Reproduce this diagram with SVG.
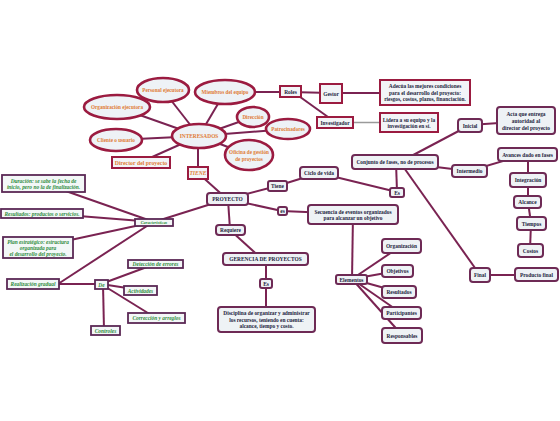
<svg xmlns="http://www.w3.org/2000/svg" width="560" height="421" viewBox="0 0 560 421">
<style>
.bg{fill:#ffffff}
.el{fill:#eef2f6;stroke:#9b1b40;stroke-width:2.6}
.rr{fill:#f2f4f7;stroke:#9b1b40;stroke-width:2}
.nd{fill:#eef2f5;stroke:#6e2a55;stroke-width:2}
.gb{fill:#f3f7f7;stroke:#5b2855;stroke-width:1.8}
.c{stroke:#7a2352;stroke-width:2;fill:none}
.cg{stroke:#9a9a9a;stroke-width:1.5;fill:none}
text{font-family:"Liberation Serif","DejaVu Serif",serif;font-weight:bold;text-anchor:middle;dominant-baseline:central}
.o{fill:#e07b35;font-size:5.2px}
.k{fill:#1d2440;font-size:5.4px}
.g{fill:#2e8b3c;font-size:5.4px;font-style:italic}
</style>
<rect class="bg" x="0" y="0" width="560" height="421"/>
<g id="connectors">
<line class="c" x1="163" y1="90" x2="199" y2="136"/>
<line class="c" x1="225" y1="92" x2="199" y2="136"/>
<line class="c" x1="117" y1="107" x2="199" y2="136"/>
<line class="c" x1="253" y1="117" x2="199" y2="136"/>
<line class="c" x1="288" y1="129" x2="199" y2="136"/>
<line class="c" x1="116" y1="140" x2="199" y2="136"/>
<line class="c" x1="249" y1="155" x2="199" y2="136"/>
<line class="c" x1="141" y1="162" x2="199" y2="136"/>
<line class="c" x1="198" y1="136" x2="198" y2="173"/>
<line class="c" x1="225" y1="92" x2="290" y2="92"/>
<line class="c" x1="290" y1="92" x2="331" y2="93"/>
<line class="c" x1="331" y1="93" x2="425" y2="93"/>
<line class="c" x1="296" y1="94" x2="335" y2="122"/>
<line class="cg" x1="335" y1="122.5" x2="409" y2="122.5"/>
<line class="c" x1="198" y1="173" x2="227" y2="199"/>
<line class="c" x1="227" y1="199" x2="277" y2="186"/>
<line class="c" x1="277" y1="186" x2="319" y2="173"/>
<line class="c" x1="319" y1="173" x2="397" y2="192"/>
<line class="c" x1="396" y1="162" x2="397" y2="192"/>
<line class="c" x1="400" y1="162" x2="470" y2="125"/>
<line class="c" x1="470" y1="125" x2="526" y2="121"/>
<line class="c" x1="395" y1="162" x2="469" y2="171"/>
<line class="c" x1="469" y1="171" x2="527" y2="154"/>
<line class="c" x1="528" y1="154" x2="528" y2="180"/>
<line class="c" x1="528" y1="180" x2="528" y2="202"/>
<line class="c" x1="528" y1="202" x2="531" y2="223"/>
<line class="c" x1="531" y1="223" x2="530" y2="250"/>
<line class="c" x1="402" y1="165" x2="480" y2="275"/>
<line class="c" x1="480" y1="275" x2="536" y2="275"/>
<line class="c" x1="227" y1="199" x2="282" y2="211"/>
<line class="c" x1="282" y1="211" x2="353" y2="214"/>
<line class="c" x1="228" y1="199" x2="230" y2="230"/>
<line class="c" x1="230" y1="230" x2="262" y2="259"/>
<line class="c" x1="266" y1="259" x2="266" y2="320"/>
<line class="c" x1="353" y1="214" x2="352" y2="280"/>
<line class="c" x1="352" y1="279" x2="401" y2="246"/>
<line class="c" x1="352" y1="279" x2="397" y2="271"/>
<line class="c" x1="352" y1="279" x2="399" y2="292"/>
<line class="c" x1="352" y1="279" x2="401" y2="313"/>
<line class="c" x1="352" y1="279" x2="402" y2="335"/>
<line class="c" x1="227" y1="199" x2="154" y2="222"/>
<line class="c" x1="43" y1="183" x2="154" y2="222"/>
<line class="c" x1="41" y1="213" x2="154" y2="222"/>
<line class="c" x1="38" y1="247" x2="154" y2="222"/>
<line class="c" x1="58" y1="284" x2="150" y2="224"/>
<line class="c" x1="33" y1="284" x2="101" y2="284"/>
<line class="c" x1="101" y1="284" x2="155" y2="264"/>
<line class="c" x1="101" y1="284" x2="140" y2="290"/>
<line class="c" x1="101" y1="284" x2="156" y2="318"/>
<line class="c" x1="103" y1="284" x2="104" y2="330"/>
</g>
<g id="n-personal"><ellipse class="el" cx="163" cy="90" rx="26" ry="12"/><text class="o" x="163" y="90">Personal ejecutora</text></g>
<g id="n-miembros"><ellipse class="el" cx="225" cy="92" rx="30" ry="12"/><text class="o" x="225" y="92">Miembros del equipo</text></g>
<g id="n-orgejec"><ellipse class="el" cx="117" cy="107" rx="33" ry="12"/><text class="o" x="117" y="107">Organización ejecutora</text></g>
<g id="n-direccion"><ellipse class="el" cx="253" cy="117" rx="16" ry="10"/><text class="o" x="253" y="117">Dirección</text></g>
<g id="n-patro"><ellipse class="el" cx="288" cy="129" rx="22" ry="10"/><text class="o" x="288" y="129">Patrocinadores</text></g>
<g id="n-interesados"><ellipse class="el" cx="199" cy="136" rx="27" ry="12"/><text class="o" x="199" y="136" style="font-size:5.4px">INTERESADOS</text></g>
<g id="n-cliente"><ellipse class="el" cx="116" cy="140" rx="26" ry="11"/><text class="o" x="116" y="140">Cliente o usuario</text></g>
<g id="n-oficina"><ellipse class="el" cx="249" cy="155" rx="24" ry="15"/><text class="o" x="249" y="152">Oficina de gestión</text><text class="o" x="249" y="158.5">de proyectos</text></g>
<g id="n-director"><rect class="rr" x="112" y="157" width="58" height="11"/><text class="o" x="141" y="162.5" style="font-size:5.8px">Director del proyecto</text></g>
<g id="n-tiene"><rect class="rr" x="188" y="167" width="20" height="12"/><text class="o" x="198" y="173" style="font-style:italic;font-size:5.6px">TIENE</text></g>
<g id="n-roles"><rect class="rr" x="280" y="86" width="21" height="11"/><text class="k" x="290.5" y="91.5">Roles</text></g>
<g id="n-gestor"><rect class="rr" x="320" y="84" width="22" height="19"/><text class="k" x="331" y="93.5">Gestor</text></g>
<g id="n-adecua"><rect class="rr" x="380" y="80" width="90" height="25"/><text class="k" x="425" y="86">Adecúa las mejores condiciones</text><text class="k" x="425" y="92.5">para el desarrollo del proyecto:</text><text class="k" x="425" y="99">riesgos, costos, plazos, financiación.</text></g>
<g id="n-investigador"><rect class="rr" x="317" y="117" width="36" height="11"/><text class="k" x="335" y="122.5">Investigador</text></g>
<g id="n-lidera"><rect class="rr" x="380" y="113" width="58" height="19"/><text class="k" x="409" y="119.5">Lidera a su equipo y la</text><text class="k" x="409" y="126">investigación en sí.</text></g>
<g id="n-inicial"><rect class="nd" x="458" y="119" width="24" height="13" rx="3"/><text class="k" x="470" y="125.5">Inicial</text></g>
<g id="n-acta"><rect class="nd" x="497" y="107" width="58" height="27" rx="3"/><text class="k" x="526" y="113.5">Acta que entrega</text><text class="k" x="526" y="120.5">autoridad al</text><text class="k" x="526" y="127.5">director del proyecto</text></g>
<g id="n-conjunto"><rect class="nd" x="352" y="155" width="86" height="14" rx="3"/><text class="k" x="395" y="162">Conjunto de fases, no de procesos</text></g>
<g id="n-intermedio"><rect class="nd" x="452" y="165" width="35" height="12" rx="3"/><text class="k" x="469.5" y="171">Intermedio</text></g>
<g id="n-avances"><rect class="nd" x="498" y="148" width="59" height="13" rx="3"/><text class="k" x="527.5" y="154.5">Avances dado en fases</text></g>
<g id="n-integracion"><rect class="nd" x="510" y="173" width="36" height="14" rx="3"/><text class="k" x="528" y="180">Integración</text></g>
<g id="n-alcance"><rect class="nd" x="514" y="196" width="27" height="12" rx="3"/><text class="k" x="527.5" y="202">Alcance</text></g>
<g id="n-tiempos"><rect class="nd" x="517" y="217" width="29" height="13" rx="3"/><text class="k" x="531.5" y="223.5">Tiempos</text></g>
<g id="n-costos"><rect class="nd" x="518" y="244" width="25" height="13" rx="3"/><text class="k" x="530.5" y="250.5">Costos</text></g>
<g id="n-final"><rect class="nd" x="470" y="268" width="20" height="14" rx="3"/><text class="k" x="480" y="275">Final</text></g>
<g id="n-producto"><rect class="nd" x="515" y="268" width="43" height="13" rx="3"/><text class="k" x="536.5" y="274.5">Producto final</text></g>
<g id="n-ciclo"><rect class="nd" x="300" y="167" width="38" height="12" rx="3"/><text class="k" x="319" y="173">Ciclo de vida</text></g>
<g id="n-es1"><rect class="nd" x="390" y="188" width="14" height="9" rx="2"/><text class="k" x="397" y="192.5">Es</text></g>
<g id="n-proyecto"><rect class="nd" x="207" y="193" width="41" height="12" rx="3"/><text class="k" x="227.5" y="199">PROYECTO</text></g>
<g id="n-tiene2"><rect class="nd" x="268" y="181" width="19" height="10" rx="2"/><text class="k" x="277.5" y="186">Tiene</text></g>
<g id="n-es2"><rect class="nd" x="278" y="207" width="9" height="8" rx="2"/><text class="k" x="282.5" y="211">es</text></g>
<g id="n-secuencia"><rect class="nd" x="308" y="205" width="90" height="19" rx="3"/><text class="k" x="353" y="211.5">Secuencia de eventos organizados</text><text class="k" x="353" y="218">para alcanzar un objetivo</text></g>
<g id="n-requiere"><rect class="nd" x="216" y="225" width="29" height="10" rx="3"/><text class="k" x="230.5" y="230">Requiere</text></g>
<g id="n-gerencia"><rect class="nd" x="223" y="253" width="85" height="12" rx="3"/><text class="k" x="265.5" y="259">GERENCIA DE PROYECTOS</text></g>
<g id="n-es3"><rect class="nd" x="260" y="279" width="12" height="9" rx="2"/><text class="k" x="266" y="283.5">Es</text></g>
<g id="n-disciplina"><rect class="nd" x="218" y="307" width="97" height="25" rx="3"/><text class="k" x="266.5" y="313">Disciplina de organizar y administrar</text><text class="k" x="266.5" y="319.5">los recursos, teniendo en cuenta:</text><text class="k" x="266.5" y="326">alcance, tiempo y costo.</text></g>
<g id="n-elementos"><rect class="nd" x="336" y="275" width="31" height="9" rx="2"/><text class="k" x="351.5" y="279.5">Elementos</text></g>
<g id="n-organizacion"><rect class="nd" x="382" y="239" width="39" height="14" rx="3"/><text class="k" x="401.5" y="246">Organización</text></g>
<g id="n-objetivos"><rect class="nd" x="382" y="265" width="31" height="12" rx="3"/><text class="k" x="397.5" y="271">Objetivos</text></g>
<g id="n-resultados2"><rect class="nd" x="382" y="286" width="34" height="12" rx="3"/><text class="k" x="399" y="292">Resultados</text></g>
<g id="n-participantes"><rect class="nd" x="382" y="307" width="39" height="12" rx="3"/><text class="k" x="401.5" y="313">Participantes</text></g>
<g id="n-responsables"><rect class="nd" x="382" y="328" width="40" height="15" rx="3"/><text class="k" x="402" y="335.5">Responsables</text></g>
<g id="n-duracion"><rect class="gb" x="2" y="175" width="83" height="17"/><text class="g" x="43.5" y="180.5">Duración: se sabe la fecha de</text><text class="g" x="43.5" y="187">inicio, pero no la de finalización.</text></g>
<g id="n-resultados"><rect class="gb" x="1" y="209" width="82" height="9"/><text class="g" x="42" y="213.5">Resultados: productos o servicios.</text></g>
<g id="n-caracteristicas"><rect class="gb" x="135" y="219" width="38" height="7"/><text class="g" x="154" y="222.5" style="font-size:4.3px">Características</text></g>
<g id="n-plan"><rect class="gb" x="3" y="237" width="70" height="21"/><text class="g" x="38" y="241.5">Plan estratégico: estructura</text><text class="g" x="38" y="247.5">organizada para</text><text class="g" x="38" y="253.5">el desarrollo del proyecto.</text></g>
<g id="n-realizacion"><rect class="gb" x="7" y="279" width="52" height="10"/><text class="g" x="33" y="284">Realización gradual</text></g>
<g id="n-de"><rect class="gb" x="95" y="280" width="13" height="9"/><text class="g" x="101.5" y="284.5">De</text></g>
<g id="n-deteccion"><rect class="gb" x="128" y="260" width="55" height="8"/><text class="g" x="155.5" y="264">Detección de errores</text></g>
<g id="n-actividades"><rect class="gb" x="124" y="286" width="33" height="9"/><text class="g" x="140.5" y="290.5">Actividades</text></g>
<g id="n-correccion"><rect class="gb" x="128" y="313" width="57" height="10"/><text class="g" x="156.5" y="318">Corrección y arreglos</text></g>
<g id="n-controles"><rect class="gb" x="91" y="326" width="29" height="9"/><text class="g" x="105.5" y="330.5">Controles</text></g>
</svg>
